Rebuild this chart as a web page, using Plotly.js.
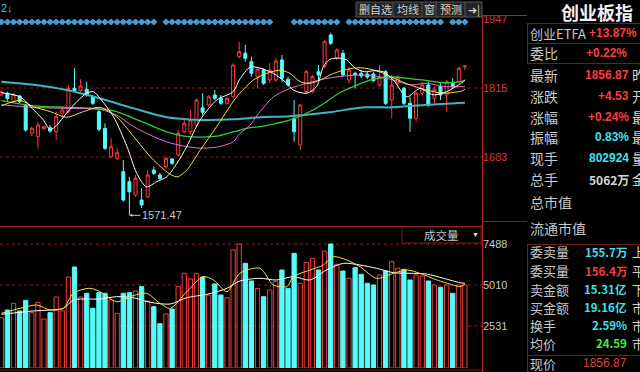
<!DOCTYPE html>
<html><head><meta charset="utf-8">
<script src="https://cdn.plot.ly/plotly-3.0.1.min.js"></script>
<style>html,body{margin:0;padding:0;background:#000;overflow:hidden}#chart{width:640px;height:372px}</style>
</head><body><div id="chart"></div>
<script>
// ---------- data ----------
const priceTicks = [1683, 1815, 1947];
const volTicks = [2531, 5010, 7488];
const openP = [1801.6,1804.9,1788.8,1799.7,1782.5,1728.3,1721.8,1737.1,1739.1,1731.4,
 1766.6,1769.7,1814.4,1809.8,1812.5,1798.4,1769.7,1737.9,1683.6,1680.5,
 1654.9,1635.8,1610.3,1600.7,1607.0,1658.1,1648.6,1664.4,1679.2,1686.8,
 1731.4,1731.4,1744.2,1777.3,1782.5,1801.6,1795.3,1785.7,1798.4,1874.9,
 1881.4,1865.3,1836.6,1849.4,1830.3,1830.3,1868.6,1831.6,1757.0,1705.9,
 1807.9,1807.9,1846.2,1855.7,1916.4,1871.8,1881.4,1830.3,1843.1,1843.1,
 1841.8,1841.8,1820.7,1846.2,1792.0,1824.0,1814.4,1785.7,1757.0,1804.9,
 1820.7,1795.3,1817.5,1801.6,1824.0,1827.0,1855.3];
const highP = [1810.2,1807.9,1805.4,1801.6,1784.4,1741.0,1750.5,1742.3,1744.2,1769.7,
 1778.1,1820.7,1852.7,1831.6,1827.0,1801.6,1772.9,1747.5,1718.8,1699.6,
 1677.3,1645.3,1648.6,1623.1,1658.1,1664.4,1652.4,1683.6,1681.1,1734.7,
 1753.8,1772.9,1795.3,1804.9,1801.6,1811.2,1801.6,1798.4,1862.2,1903.6,
 1897.3,1874.9,1855.7,1852.7,1862.2,1871.8,1878.1,1836.6,1792.0,1784.4,
 1849.4,1839.9,1859.0,1906.8,1920.8,1890.9,1887.7,1855.7,1846.2,1849.4,
 1845.6,1845.6,1859.0,1849.4,1839.9,1839.9,1817.5,1798.4,1807.9,1827.0,
 1827.0,1817.5,1824.0,1830.3,1833.6,1855.7,1858.2];
const lowP = [1799.7,1788.8,1786.3,1786.3,1731.4,1723.2,1699.6,1735.6,1729.5,1715.5,
 1761.4,1766.6,1807.9,1807.9,1798.4,1782.5,1732.7,1696.4,1680.5,1677.3,
 1597.5,1571.47,1607.0,1585.4,1604.0,1648.6,1639.0,1661.4,1667.7,1683.6,
 1728.3,1725.1,1741.0,1763.3,1779.2,1792.0,1782.5,1782.5,1795.3,1871.8,
 1865.3,1836.6,1814.4,1820.7,1824.0,1827.0,1827.0,1817.5,1712.3,1696.4,
 1804.9,1804.9,1830.3,1852.7,1897.3,1868.6,1836.6,1824.0,1814.4,1834.1,
 1832.2,1826.5,1817.5,1782.5,1757.0,1817.5,1782.5,1731.4,1750.5,1798.4,
 1779.2,1785.7,1792.0,1769.7,1814.4,1824.0,1849.0];
const closeP = [1807.9,1795.3,1802.9,1788.8,1734.7,1737.9,1744.2,1741.0,1732.7,1760.1,
 1772.9,1814.4,1809.8,1818.8,1801.6,1785.7,1736.0,1699.6,1702.7,1691.2,
 1600.7,1616.6,1642.2,1591.2,1648.6,1651.8,1642.2,1680.5,1671.0,1728.3,
 1747.5,1753.8,1792.0,1768.5,1798.4,1795.3,1785.7,1795.3,1859.0,1884.4,
 1871.8,1843.1,1850.8,1824.0,1849.4,1866.6,1833.6,1820.7,1731.4,1782.5,
 1846.2,1836.6,1839.9,1903.6,1900.5,1887.7,1839.9,1849.4,1839.9,1837.9,
 1836.0,1829.0,1836.6,1785.7,1820.7,1833.6,1785.7,1757.0,1804.9,1820.7,
 1782.5,1812.5,1801.6,1827.0,1817.5,1852.7,1856.87];
const volume = [3040,3506,3910,3446,4090,3345,3970,2960,3345,4290,
 3446,5500,6105,4290,4515,3608,4553,4515,4110,3305,
 4515,4553,4655,4917,4050,3707,2680,3264,3567,4917,
 5723,5380,5723,5500,4413,5078,4413,4250,7133,7496,
 6330,5260,4815,4310,4715,5217,5924,4815,6933,5120,
 6390,6631,5924,7073,7496,6268,5864,5422,6063,5664,
 5120,5017,5622,5864,6426,6027,5966,5320,5622,5561,
 5259,5017,4878,5017,4515,5017,5017];

// moving-average lines, read at sample positions (day index, value)
const ma5X = [0,3.1,5.3,6.9,8.0,9.1,10.7,12.4,14.0,15.1,16.2,18.4,20.6,22.2,23.8,25.5,27.1,28.8,30.4,32.6,35.3,38.0,39.1,40.8,42.4,44.6,46.8,47.9,50.1,51.7,52.8,53.9,55.5,56.6,58.0,59.6,61.0,62.6,64.3,66.5,68.6,70.8,73.0,75.7,76];
const ma5 = [1806,1798,1773,1754,1735,1744,1767,1789,1805,1808,1795,1760,1703,1652,1626,1636,1645,1671,1703,1754,1792,1808,1832,1855,1853,1843,1824,1811,1805,1818,1856,1870,1872,1869,1853,1846,1848,1846,1830,1798,1814,1802,1808,1827,1831];
const ma10X = [0,3.1,5.3,8.0,10.7,13.5,16.2,18.9,21.7,24.4,27.1,28.8,30.4,32.6,35.3,38.0,39.1,41.3,43.5,45.7,47.3,49.0,50.6,52.2,53.9,55.5,57.7,59.6,62,64.3,67,69.8,72.5,75.7,76];
const ma10 = [1781,1791,1779,1770,1759,1770,1778,1760,1722,1684,1655,1645,1658,1696,1741,1789,1805,1830,1843,1849,1843,1827,1824,1830,1840,1847,1853,1853,1846,1834,1821,1811,1805,1810,1813];
const ma20X = [0,5.3,10.7,16.2,18.9,21.7,24.4,27.1,29.9,32.6,35.3,38.0,39.1,40.8,41.9,44.6,47.3,50.1,52.8,55.5,58.8,61.5,64.3,67,69.8,72.5,75.7,76];
const ma20 = [1783,1778,1776,1774,1763,1741,1725,1712,1704,1700,1702,1712,1728,1744,1762,1798,1814,1824,1832,1837,1840,1837,1830,1821,1824,1818,1818,1819];
const ma30X = [0,5.3,10.7,16.2,18.9,21.7,24.4,27.1,29.9,32.6,35.3,38.0,40.8,42.4,44.6,47.9,50.6,52.8,55.5,58.8,61.0,64.3,67,69.8,73.0,75.7,76];
const ma30 = [1791,1781,1778,1775,1770,1757,1744,1731,1723,1721,1723,1731,1739,1741,1746,1756,1770,1785,1806,1823,1832,1836,1833,1829,1825,1828,1829];
const ma60X = [0,5.3,10.7,16.2,21.7,27.1,32.6,38.0,42.4,47.3,53.4,59.6,64.3,69.8,76];
const ma60 = [1827,1821,1811,1795,1776,1759,1754,1755,1759,1761,1768,1778,1778,1783,1787];
const volMa5X = [0,3.1,5.8,8.0,10.2,11.8,14.5,16.2,18.9,21.6,23.8,26.0,27.7,30.4,33.1,34.8,37.0,39.1,42.4,44.6,46.8,47.9,50.6,52.8,54.4,56.6,58.8,61.5,64.3,66.5,68.6,71.4,74.1,75.2,76];
const volMa5 = [3307,3609,3808,3506,3609,4516,4818,4612,4008,4371,4516,3911,3609,4612,5519,5320,4612,5725,6027,5017,4915,5519,5924,6226,6728,6529,6124,5422,5725,5924,5725,5320,5017,4915,5078];
const volMa10X = [0,3.1,5.2,8.0,10.2,11.8,13.4,16.2,18.9,21.6,24.4,27.7,30.4,33.7,37.0,39.1,42.4,45.1,47.9,50.6,53.3,56.1,58.8,61.5,64.3,67.0,69.7,72.5,75.2,76];
const volMa10 = [3246,3367,3446,3506,3609,4111,4171,4171,4310,4250,3972,3869,4250,4455,4818,5259,5422,5320,5519,5320,5924,6329,6226,6027,5761,5725,5682,5422,5156,5120];
// days carrying an information marker (diamond row)
const infoDays = [0,1,2,3,4,5,6,7,8,9,10,11,12,13,14,15,16,17,18,19,20,21,22,23,24,25,
 27,28,29,30,31,32,33,34,35,36,37,38,39,40,41,42,43,44,
 48,49,50,51,52,53,54,55,
 57,58,59,60,61,62,63,64,65,66,67,68,69,70,71,72,
 74,75,76];
// right-hand quote panel
const quoteLabels = ["创业ETFA","委比","最新","涨跌","涨幅","振幅","现手","总手"];
const quoteValues = ["+13.87%","+0.22%","1856.87","+4.53","+0.24%","0.83%","802924","5062万"];
const quoteKinds  = ["up","up","up","up","up","down","down","flat"];
const quoteSuffix = ["","","昨","开","最","最","量","金"];
const bookLabels = ["委卖量","委买量","卖金额","买金额","换手","均价"];
const bookValues = ["155.7万","156.4万","15.31亿","19.16亿","2.59%","24.59"];
const bookKinds  = ["down","up","down","down","down","avg"];
const bookSuffix = ["上","平","下","市","市","市"];
const lastPrice = "1856.87";
const buttons = ["删自选","均线","窗","预测","➜|"];

// ---------- drawing ----------
const W = 640, H = 372;
const PX = x => x / W, PY = y => 1 - y / H;
const RED = '#ff3b3b', CYAN = '#54fcfc';
const CJK = 'Noto Sans CJK SC', NUM = 'Liberation Sans';
const kindColor = {up: '#ff3c3c', down: '#3fe0f0', flat: '#d8d8d8', avg: '#3cf03c'};
const idx = openP.map((_, i) => i);
const up = idx.map(i => closeP[i] >= openP[i]);

const line = (x, y, color, width, axis) => ({type: 'scatter', mode: 'lines', x, y, yaxis: axis,
  line: {color, width, shape: 'spline', smoothing: 0.8}, hoverinfo: 'skip'});

const traces = [
  {type: 'bar', x: idx, y: volume, yaxis: 'y2', width: 0.7,
   marker: {color: up.map(u => u ? '#000000' : CYAN), line: {color: up.map(u => u ? RED : CYAN), width: 1}},
   hoverinfo: 'skip'},
  line(volMa10X, volMa10, '#ffffff', 1, 'y2'),
  line(volMa5X, volMa5, '#f0e040', 1, 'y2'),
  {type: 'candlestick', x: idx, open: openP, high: highP, low: lowP, close: closeP, yaxis: 'y',
   increasing: {line: {color: RED, width: 1}, fillcolor: '#000000'},
   decreasing: {line: {color: CYAN, width: 1}, fillcolor: CYAN},
   whiskerwidth: 0, hoverinfo: 'skip'},
  line(ma60X, ma60, '#3fb4c4', 2, 'y'),
  line(ma30X, ma30, '#2ed02e', 1.3, 'y'),
  line(ma20X, ma20, '#e070e0', 1, 'y'),
  line(ma10X, ma10, '#f0e040', 1, 'y'),
  line(ma5X, ma5, '#ffffff', 1, 'y'),
  {type: 'scatter', mode: 'markers', x: infoDays, y: infoDays.map(() => 0.5), yaxis: 'y3',
   marker: {symbol: 'diamond', size: 5, color: '#3c9ce0', line: {color: '#7cc8f0', width: 0.5}}, hoverinfo: 'skip'}
];

const shapes = [];
const P = (x0, y0, x1, y1, color, extra) => Object.assign({type: 'line', xref: 'paper', yref: 'paper',
  x0: PX(x0), x1: PX(x1), y0: PY(y0), y1: PY(y1), line: {color, width: 1}}, extra || {});
priceTicks.slice(0, 2).forEach(v => shapes.push({type: 'line', xref: 'paper', yref: 'y', x0: 0, x1: PX(482), y0: v, y1: v,
  line: {color: '#8c1e1e', width: 1, dash: 'dot'}, layer: 'below'}));
volTicks.forEach(v => shapes.push({type: 'line', xref: 'paper', yref: 'y2', x0: 0, x1: PX(482), y0: v, y1: v,
  line: {color: '#8c1e1e', width: 1, dash: 'dot'}, layer: 'below'}));
shapes.push(P(482.5, 15, 482.5, 372, '#b42828'));
shapes.push(P(0, 226.5, 482, 226.5, '#a82626'));
shapes.push(P(0, 370, 482, 370, '#7a1c1c'));
shapes.push(P(482, 15.5, 527, 15.5, '#a82626'));
shapes.push(P(482, 221.5, 527, 221.5, '#7a1c1c'));
// quote panel frame
shapes.push(P(527.5, 23, 527.5, 63, '#6e1c1c'));
[23.5, 43.5, 63.5, 244.5, 355.5].forEach(y => shapes.push(P(527, y, 640, y, '#6e1c1c')));
shapes.push(P(527.5, 244, 527.5, 372, '#6e1c1c'));
// button bar
shapes.push({type: 'rect', xref: 'paper', yref: 'paper', x0: PX(356), x1: PX(482), y0: PY(17), y1: PY(2),
  fillcolor: '#242424', line: {color: '#555555', width: 1}});
[393, 422, 436, 465].forEach(x => shapes.push(P(x, 2, x, 17, '#555555')));
// 成交量 selector box
shapes.push({type: 'rect', xref: 'paper', yref: 'paper', x0: PX(402), x1: PX(481), y0: PY(243), y1: PY(227),
  fillcolor: '#000000', line: {color: '#7a1e1e', width: 1}});

const T = (x, y, text, color, size, anchor, family, weight) => ({xref: 'paper', yref: 'paper', x: PX(x), y: PY(y),
  text, showarrow: false, xanchor: anchor || 'left', yanchor: 'middle', borderpad: 0,
  font: {family: family || CJK, size, color, weight: weight || 'normal'}});

const ann = [];
ann.push(T(0, 8, '2↓', '#3fd0e8', 11, 'left', NUM));
const btnCenters = [375, 408, 429, 451, 474];
buttons.forEach((b, i) => ann.push(T(btnCenters[i], 9.5, b, '#d0d0d0', 11, 'center', CJK)));
ann.push(T(441, 235, '成交量', '#c8c8c8', 11.5, 'center', CJK));
ann.push(T(475, 234.5, '▼', '#e0e0e0', 7, 'center', NUM));
// lowest price marker
const lowIdx = lowP.indexOf(Math.min(...lowP));
ann.push({x: lowIdx, y: lowP[lowIdx], xref: 'x', yref: 'y', text: lowP[lowIdx].toFixed(2),
  showarrow: true, ax: 11, ay: 0, xanchor: 'left', arrowhead: 2, arrowsize: 0.6, arrowwidth: 1,
  arrowcolor: '#c8c8c8', standoff: 0, font: {family: NUM, size: 11, color: '#c8c8c8'}});
// quote panel
ann.push(T(597, 12, '创业板指', '#f0f0f0', 18, 'center', CJK, 'bold'));
const qY = [33, 53, 75, 96, 117, 137, 158, 179];
const qR = [638, 628, 630, 630, 630, 630, 630, 630];
quoteLabels.forEach((l, i) => {
  ann.push(T(529, qY[i], l, '#c8c8c8', i === 0 ? 13 : 14, 'left', CJK));
  ann.push(T(qR[i], qY[i], quoteValues[i], kindColor[quoteKinds[i]], 12, 'right', i === 7 ? CJK : NUM, 'bold'));
  if (quoteSuffix[i]) ann.push(T(631, qY[i], quoteSuffix[i], '#d0d0d0', 14, 'left', CJK));
});
ann.push(T(529, 202, '总市值', '#c8c8c8', 14, 'left', CJK));
ann.push(T(529, 228, '流通市值', '#c8c8c8', 14, 'left', CJK));
const bY = [252, 270.5, 289, 307, 325, 343];
bookLabels.forEach((l, i) => {
  ann.push(T(529, bY[i], l, '#c8c8c8', 13, 'left', CJK));
  ann.push(T(628, bY[i], bookValues[i], kindColor[bookKinds[i]], 11.5, 'right', CJK, 'bold'));
  ann.push(T(631, bY[i], bookSuffix[i], '#d0d0d0', 13, 'left', CJK));
});
ann.push(T(529, 363, '现价', '#c8c8c8', 13, 'left', CJK));
ann.push(T(628, 363, lastPrice, '#d84040', 12, 'right', NUM));

const layout = {
  width: W, height: H, margin: {l: 0, r: 0, t: 0, b: 0}, paper_bgcolor: '#000', plot_bgcolor: '#000',
  showlegend: false, hovermode: false, boxgap: 0.3,
  xaxis: {domain: [0, 482 / W], range: [-0.213, 78.8], showgrid: false, zeroline: false, showticklabels: false,
    ticks: '', showline: false, rangeslider: {visible: false}, fixedrange: true, anchor: 'y2'},
  yaxis: {domain: [PY(222), PY(17)], range: [1558.7, 1950.8], side: 'right', anchor: 'x',
    tickvals: priceTicks, ticktext: priceTicks.map(String), tickfont: {family: NUM, size: 11, color: '#d23c3c'},
    showgrid: false, zeroline: false, ticks: '', showline: false, automargin: false, fixedrange: true},
  yaxis2: {domain: [PY(368), PY(228)], range: [0, 8463], side: 'right', anchor: 'x',
    tickvals: volTicks, ticktext: volTicks.map(String), tickfont: {family: NUM, size: 11, color: '#c8c8c8'},
    showgrid: false, zeroline: false, ticks: '', showline: false, automargin: false, fixedrange: true},
  yaxis3: {domain: [PY(25), PY(19)], range: [0, 1], visible: false, anchor: 'x', fixedrange: true},
  shapes, annotations: ann
};
Plotly.newPlot('chart', traces, layout, {staticPlot: true, displayModeBar: false});
</script></body></html>
